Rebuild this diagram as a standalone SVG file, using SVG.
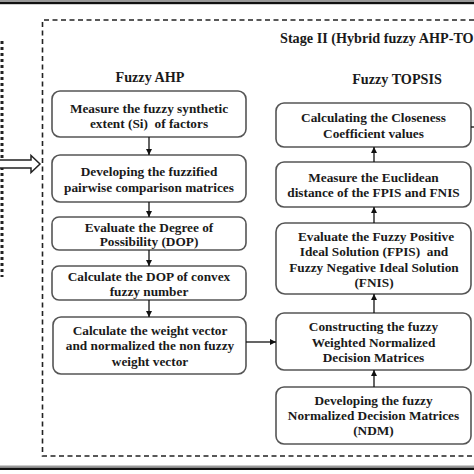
<svg xmlns="http://www.w3.org/2000/svg" width="474" height="474" viewBox="0 0 474 474">
<defs>
<marker id="ah" viewBox="0 0 10 10" refX="10" refY="5" markerWidth="6" markerHeight="6" markerUnits="userSpaceOnUse" orient="auto">
<path d="M0,0 L10,5 L0,10 z" fill="#111"/>
</marker>
</defs>
<style>
.box{fill:#fff;stroke:#555;stroke-width:1.6}
.t{font-family:"Liberation Serif","Times New Roman",serif;font-weight:bold;font-size:13.3px;fill:#1a1a1a;text-anchor:middle}
.h{font-family:"Liberation Serif","Times New Roman",serif;font-weight:bold;font-size:14.2px;fill:#1a1a1a}
.c{fill:none;stroke:#111;stroke-width:1.3}
</style>
<rect width="474" height="474" fill="#fff"/>
<rect x="0" y="0" width="474" height="2" fill="#999"/>
<rect x="0" y="2" width="474" height="2.2" fill="#111"/>
<rect x="0" y="465.5" width="474" height="1.5" fill="#999"/>
<rect x="0" y="467.5" width="474" height="2.5" fill="#111"/>
<g id="stage-frames">
<path d="M474,20 H42.5 V456 H474" fill="none" stroke="#222" stroke-width="1.6" stroke-dasharray="5,3.5"/>
<line x1="2" y1="41" x2="2" y2="277" stroke="#222" stroke-width="3" stroke-dasharray="3,3"/>
</g>
<g id="stage-arrow">
<path d="M0,160 H31 V155.5 L40,164 L31,172.5 V168 H0" fill="#fff" stroke="#222" stroke-width="1.5"/>
</g>
<text class="h" x="280" y="43">Stage II (Hybrid fuzzy AHP-TO</text>
<text class="h" x="150" y="82" text-anchor="middle">Fuzzy AHP</text>
<text class="h" x="397" y="84" text-anchor="middle">Fuzzy TOPSIS</text>
<g id="ahp1"><rect class="box" x="52" y="91" width="194" height="46" rx="8"/>
<text class="t" x="149" y="112.5">Measure the fuzzy synthetic</text>
<text class="t" x="149" y="128">extent (Si)&#160; of factors</text></g>
<g id="ahp2"><rect class="box" x="52" y="155" width="194" height="47" rx="8"/>
<text class="t" x="149" y="176">Developing the fuzzified</text>
<text class="t" x="149" y="192">pairwise comparison matrices</text></g>
<g id="ahp3"><rect class="box" x="52" y="217" width="194" height="33" rx="7"/>
<text class="t" x="149" y="232.3">Evaluate the Degree of</text>
<text class="t" x="149" y="246.3">Possibility (DOP)</text></g>
<g id="ahp4"><rect class="box" x="52" y="266" width="194" height="34" rx="7"/>
<text class="t" x="149" y="281.3">Calculate the DOP of convex</text>
<text class="t" x="149" y="296">fuzzy number</text></g>
<g id="ahp5"><rect class="box" x="53" y="317" width="193" height="57" rx="8"/>
<text class="t" x="150" y="334.7">Calculate the weight vector</text>
<text class="t" x="150" y="350.3">and normalized the non fuzzy</text>
<text class="t" x="150" y="366.3">weight vector</text></g>
<g id="top1"><rect class="box" x="276" y="103" width="195" height="44" rx="8"/>
<text class="t" x="373.5" y="122.3">Calculating the Closeness</text>
<text class="t" x="373.5" y="138.3">Coefficient values</text></g>
<g id="top2"><rect class="box" x="276" y="162" width="195" height="45" rx="8"/>
<text class="t" x="373.5" y="182.3">Measure the Euclidean</text>
<text class="t" x="373.5" y="197.3">distance of the FPIS and FNIS</text></g>
<g id="top3"><rect class="box" x="276" y="223" width="195" height="71" rx="9"/>
<text class="t" x="376" y="241">Evaluate the Fuzzy Positive</text>
<text class="t" x="374" y="256">Ideal Solution (FPIS)&#160; and</text>
<text class="t" x="374" y="272">Fuzzy Negative Ideal Solution</text>
<text class="t" x="374" y="287">(FNIS)</text></g>
<g id="top4"><rect class="box" x="276" y="313" width="195" height="57" rx="8"/>
<text class="t" x="373.5" y="331">Constructing the fuzzy</text>
<text class="t" x="373.5" y="347">Weighted Normalized</text>
<text class="t" x="373.5" y="362">Decision Matrices</text></g>
<g id="top5"><rect class="box" x="276" y="387" width="195" height="57" rx="8"/>
<text class="t" x="373.5" y="404.7">Developing the fuzzy</text>
<text class="t" x="373.5" y="420.3">Normalized Decision Matrices</text>
<text class="t" x="373.5" y="435.3">(NDM)</text></g>
<g id="connectors">
<line class="c" x1="149" y1="137" x2="149" y2="155" marker-end="url(#ah)"/>
<line class="c" x1="149" y1="202" x2="149" y2="217" marker-end="url(#ah)"/>
<line class="c" x1="149" y1="250" x2="149" y2="266" marker-end="url(#ah)"/>
<line class="c" x1="149" y1="300" x2="149" y2="317" marker-end="url(#ah)"/>
<line class="c" x1="246" y1="342" x2="276" y2="342" marker-end="url(#ah)"/>
<line class="c" x1="374" y1="387" x2="374" y2="370" marker-end="url(#ah)"/>
<line class="c" x1="374" y1="313" x2="374" y2="294" marker-end="url(#ah)"/>
<line class="c" x1="374" y1="223" x2="374" y2="207" marker-end="url(#ah)"/>
<line class="c" x1="374" y1="162" x2="374" y2="147" marker-end="url(#ah)"/>
<line class="c" x1="471" y1="127" x2="474" y2="127"/>
</g>
</svg>
